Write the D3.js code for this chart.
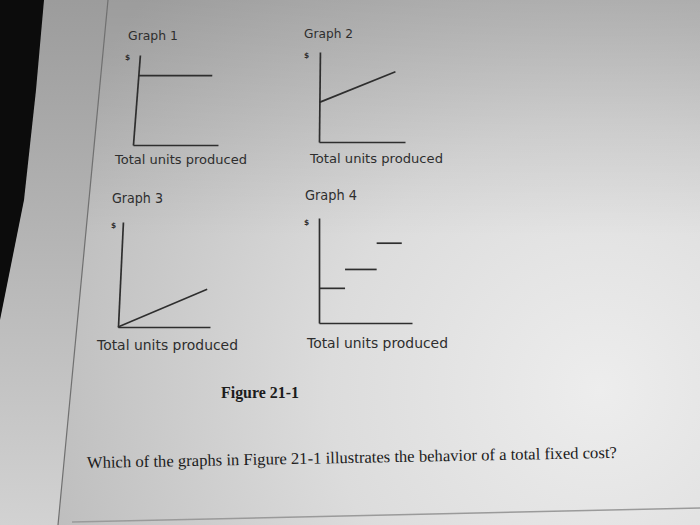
<!DOCTYPE html>
<html>
<head>
<meta charset="utf-8">
<script src="https://cdn.jsdelivr.net/npm/d3@7"></script>
<style>
  html, body { margin: 0; padding: 0; background: #b0b0b0; }
  svg { display: block; }
</style>
</head>
<body>
<div class="canvas"></div>
<script>
// Chart data
const graphTitles = ["Graph 1", "Graph 2", "Graph 3", "Graph 4"];
const xAxisLabel = "Total units produced";
const yAxisLabel = "$";
const graph1Line = [[0, 7.7], [8.7, 7.7]];
const graph2Line = [[0, 4.4], [8.8, 7.8]];
const graph3Line = [[0, 0], [9.5, 3.6]];
const graph4Steps = [[0, 2.8, 3.3], [2.8, 6.2, 5.1], [6.2, 8.9, 7.6]]; // x0, x1, y
const figureCaption = "Figure 21-1";
const questionText = "Which of the graphs in Figure 21-1 illustrates the behavior of a total fixed cost?";

const dims = { width: 700, height: 525 };

const svg = d3
  .select(".canvas")
  .append("svg")
  .attr("width", dims.width)
  .attr("height", dims.height);

const defs = svg.append("defs");

// Photo lighting: bright patch on the right, darker top
const glow = defs.append("radialGradient")
  .attr("id", "glow")
  .attr("gradientUnits", "userSpaceOnUse")
  .attr("cx", 600).attr("cy", 390).attr("r", 600);
glow.append("stop").attr("offset", 0).attr("stop-color", "#ededed");
glow.append("stop").attr("offset", 0.45).attr("stop-color", "#dcdcdc");
glow.append("stop").attr("offset", 1).attr("stop-color", "#bababa");

const topShade = defs.append("linearGradient")
  .attr("id", "topShade")
  .attr("x1", 0).attr("y1", 0).attr("x2", 0).attr("y2", 1);
topShade.append("stop").attr("offset", 0).attr("stop-color", "#000").attr("stop-opacity", 0.16);
topShade.append("stop").attr("offset", 0.45).attr("stop-color", "#000").attr("stop-opacity", 0);

const sideShade = defs.append("linearGradient")
  .attr("id", "sideShade")
  .attr("x1", 0).attr("y1", 0).attr("x2", 0).attr("y2", 1);
sideShade.append("stop").attr("offset", 0).attr("stop-color", "#9c9c9c");
sideShade.append("stop").attr("offset", 1).attr("stop-color", "#d2d2d2");

svg.append("rect").attr("width", dims.width).attr("height", dims.height).attr("fill", "url(#glow)");
svg.append("rect").attr("width", dims.width).attr("height", dims.height).attr("fill", "url(#topShade)");

// Strip left of the page edge
svg.append("path")
  .attr("d", "M0,0 L108,0 L58,525 L0,525 Z")
  .attr("fill", "url(#sideShade)");
svg.append("path")
  .attr("d", "M0,0 L44,0 L36,90 L24,200 L0,320 Z")
  .attr("fill", "#0c0c0c");
svg.append("line")
  .attr("x1", 108).attr("y1", 0).attr("x2", 58).attr("y2", 525)
  .attr("stroke", "#707070").attr("stroke-width", 1.2);

// Rule at the bottom of the page
svg.append("line")
  .attr("x1", 72).attr("y1", 522).attr("x2", 700).attr("y2", 508)
  .attr("stroke", "#9a9a9a").attr("stroke-width", 1.5);

// Layout of the four small graphs
const panels = [
  { ox: 133, oy: 145, w: 85, h: 90, skew: -4.4, title: [128, 40, 50], dollar: [125, 60], label: [115, 164, 132], fs: 12.5 },
  { ox: 319, oy: 142, w: 86, h: 90, skew: -0.6, title: [304, 38, 49], dollar: [304, 58], label: [310, 163, 133], fs: 12.5 },
  { ox: 118, oy: 327, w: 92, h: 105, skew: -2.7, title: [112, 203, 51], dollar: [111, 228], label: [97, 350, 141], fs: 14 },
  { ox: 319, oy: 323, w: 93, h: 105, skew: 0, title: [305, 200, 52], dollar: [304, 225], label: [307, 348, 141], fs: 14 },
];

const ink = "#2e2e2e";
const sans = "'DejaVu Sans', Verdana, sans-serif";
const serif = "'Liberation Serif', 'Times New Roman', serif";

const line = (x, y) => d3.line().x((d) => x(d[0])).y((d) => y(d[1]));

panels.forEach((p, i) => {
  // Titles and labels
  svg.append("text")
    .attr("x", p.title[0]).attr("y", p.title[1])
    .attr("textLength", p.title[2]).attr("lengthAdjust", "spacingAndGlyphs")
    .attr("font-family", sans).attr("font-size", p.fs)
    .attr("fill", ink)
    .text(graphTitles[i]);

  svg.append("text")
    .attr("x", p.dollar[0]).attr("y", p.dollar[1])
    .attr("font-family", sans).attr("font-size", 7.5).attr("font-weight", "bold")
    .attr("fill", ink)
    .text(yAxisLabel);

  svg.append("text")
    .attr("x", p.label[0]).attr("y", p.label[1])
    .attr("textLength", p.label[2]).attr("lengthAdjust", "spacingAndGlyphs")
    .attr("font-family", sans).attr("font-size", p.fs)
    .attr("fill", ink)
    .text(xAxisLabel);

  // Graph body
  const g = svg.append("g")
    .attr("transform", `translate(${p.ox}, ${p.oy}) skewX(${p.skew})`);

  const x = d3.scaleLinear().domain([0, 10]).range([0, p.w]);
  const y = d3.scaleLinear().domain([0, 10]).range([0, -p.h]);

  const xAxis = g.append("g").call(d3.axisBottom(x).ticks(0).tickSizeOuter(0));
  const yAxis = g.append("g").call(d3.axisLeft(y).ticks(0).tickSizeOuter(0));
  [xAxis, yAxis].forEach((a) => {
    a.select(".domain").attr("stroke", ink).attr("stroke-width", 1.7);
    a.selectAll(".tick").remove();
  });

  const lines = i === 0 ? [graph1Line] : i === 1 ? [graph2Line] : i === 2 ? [graph3Line]
    : graph4Steps.map((s) => [[s[0], s[2]], [s[1], s[2]]]);

  g.selectAll("path.cost")
    .data(lines)
    .enter()
    .append("path")
    .attr("class", "cost")
    .attr("d", line(x, y))
    .attr("fill", "none")
    .attr("stroke", ink)
    .attr("stroke-width", 1.7);
});

// Caption and question
svg.append("text")
  .attr("x", 221).attr("y", 398)
  .attr("textLength", 78).attr("lengthAdjust", "spacingAndGlyphs")
  .attr("font-family", serif).attr("font-size", 17).attr("font-weight", "bold")
  .attr("fill", "#1c1c1c")
  .text(figureCaption);

svg.append("text")
  .attr("x", 87).attr("y", 468)
  .attr("transform", "rotate(-1.1, 87, 468)")
  .attr("textLength", 530).attr("lengthAdjust", "spacingAndGlyphs")
  .attr("font-family", serif).attr("font-size", 16.5)
  .attr("fill", "#1c1c1c")
  .text(questionText);
</script>
</body>
</html>
